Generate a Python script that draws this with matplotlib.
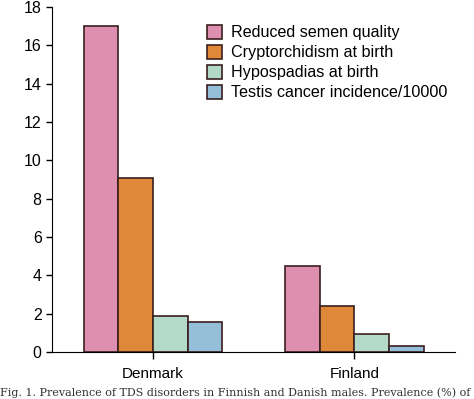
import numpy as np
import matplotlib.pyplot as plt

plt.rcParams['font.family'] = ['Liberation Sans', 'DejaVu Sans']

# Data
countries = ['Denmark', 'Finland']
series = ['Reduced semen quality', 'Cryptorchidism at birth',
          'Hypospadias at birth', 'Testis cancer incidence/10000']
semen = [17.0, 4.5]
crypto = [9.1, 2.4]
hypo = [1.9, 0.95]
testis = [1.55, 0.32]
colors = ['#DE8FB0', '#E0883A', '#B3D9C8', '#95BFD8']

fig = plt.figure(figsize=(4.74, 3.99), dpi=100)
ax = fig.add_axes([0.110, 0.118, 0.850, 0.864])

x = np.arange(len(countries))
w = 0.172
for i, (vals, lab) in enumerate(zip([semen, crypto, hypo, testis], series)):
    ax.bar(x + (i - 1.5) * w, vals, w, color=colors[i], edgecolor='#3a1f1f',
           linewidth=1.2, label=lab)

ax.set_xlim(-0.5, 1.5)
ax.set_ylim(0, 18)
ax.set_yticks(range(0, 19, 2))
ax.set_xticks(x)
ax.set_xticklabels(countries)
ax.spines['top'].set_visible(False)
ax.spines['right'].set_visible(False)
ax.tick_params(labelsize=11.5, direction='out', length=4, width=1)
ax.tick_params(axis='x', length=5, pad=6, labelsize=11)

ax.legend(loc='upper left', bbox_to_anchor=(0.368, 0.967), frameon=False,
          fontsize=11.6, handlelength=0.95, handleheight=0.95,
          handletextpad=0.55, labelspacing=0.28, borderaxespad=0)

fig.text(0.0, 0.015, 'Fig. 1. Prevalence of TDS disorders in Finnish and Danish males. Prevalence (%) of',
         family='DejaVu Serif', fontsize=8, color='#333333', va='center')

fig.savefig('out.png', dpi=100)
